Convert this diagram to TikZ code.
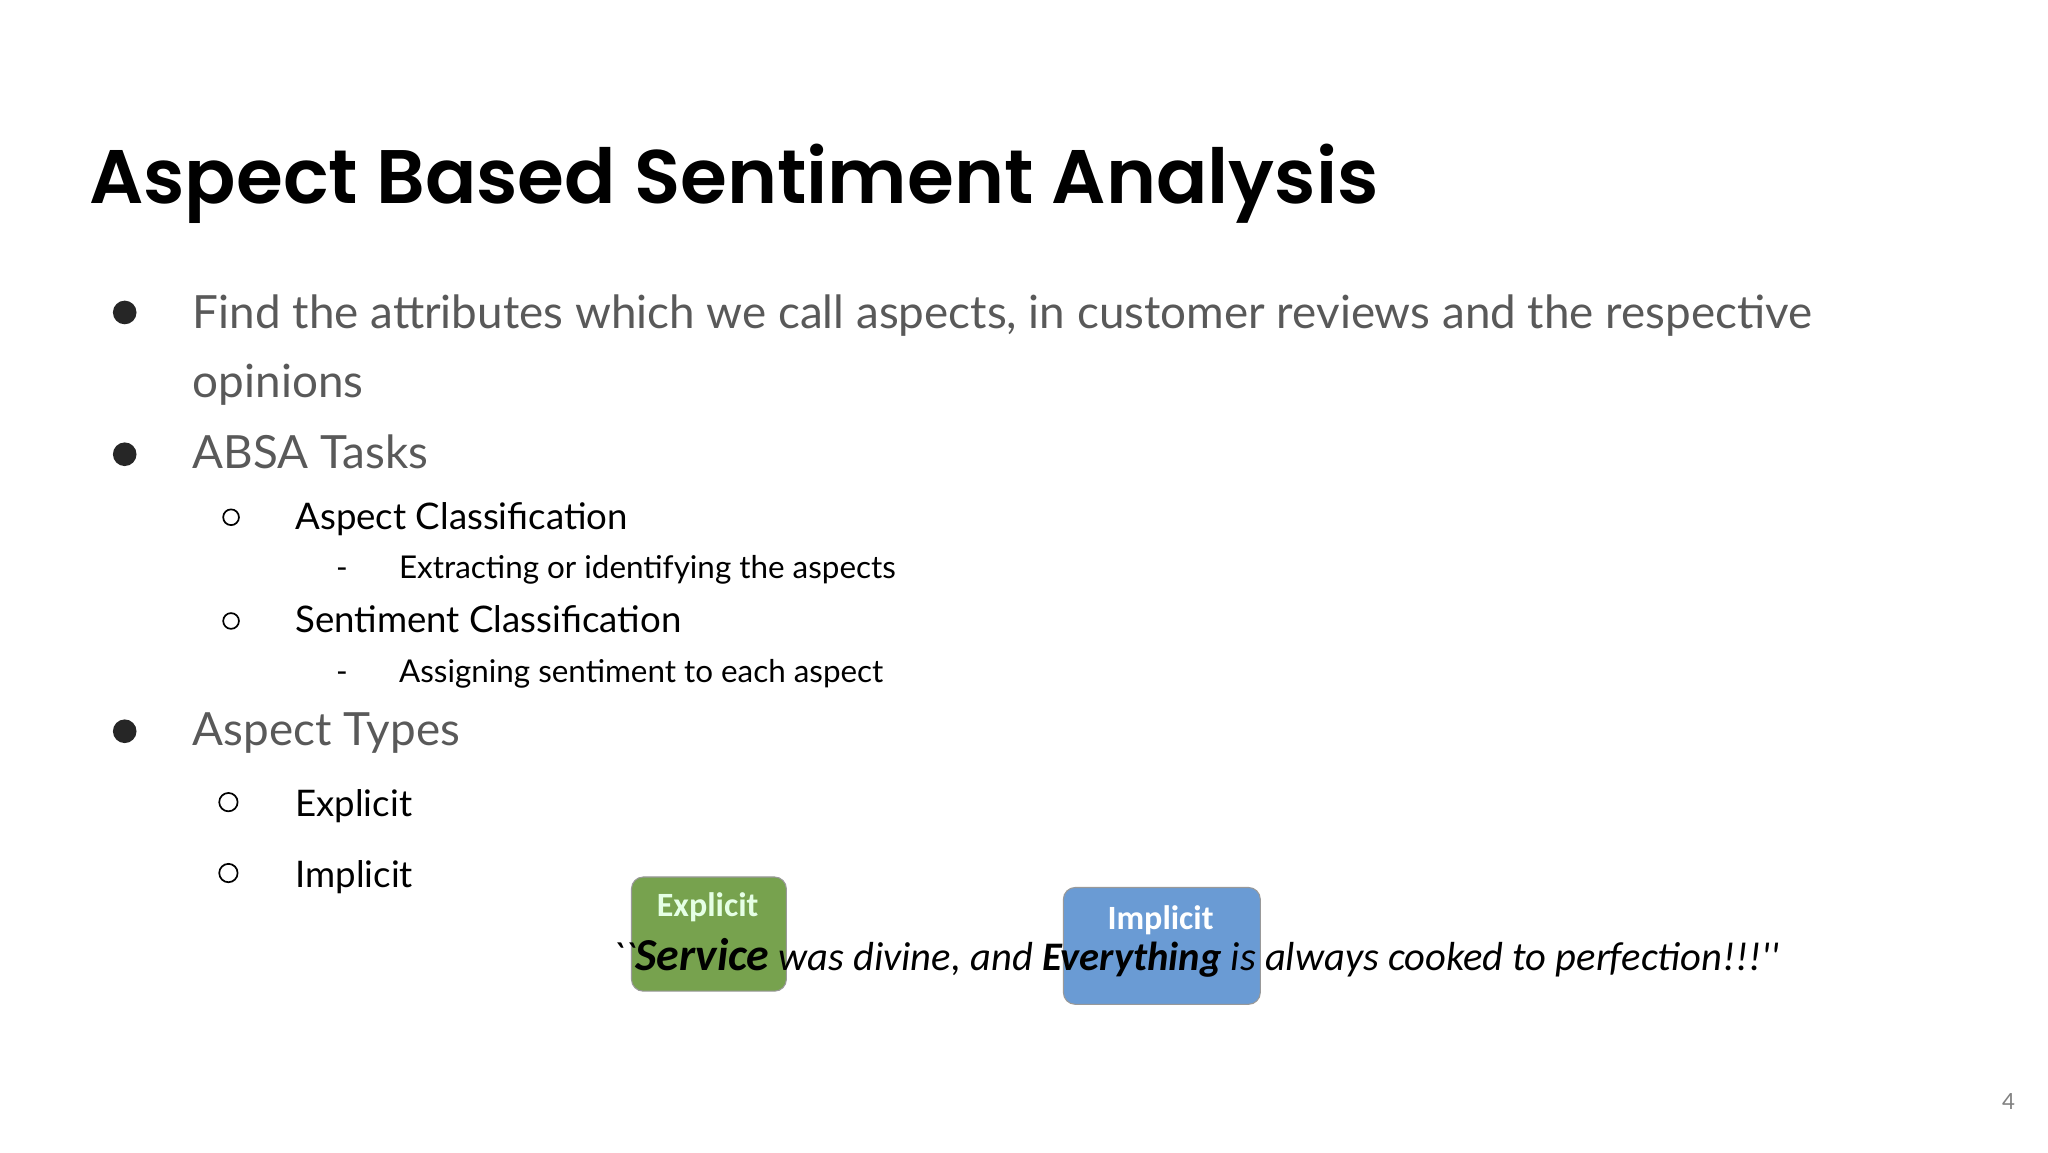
\documentclass[tikz,border=0pt]{standalone}
\usepackage{fontspec}
\setmainfont{Lato}
\newfontfamily\titlefont{Poppins}[UprightFont=* SemiBold]
\newfontfamily\calfont{Carlito}
\definecolor{bodygray}{HTML}{595959}
\definecolor{exgreen}{HTML}{77A24E}
\definecolor{imblue}{HTML}{6A9BD4}
\begin{document}
\begin{tikzpicture}[x=1bp,y=-1bp,
  every node/.style={inner sep=0pt,outer sep=0pt},
  lone/.style={anchor=base west,font=\fontsize{35}{40}\selectfont,text=bodygray},
  ltwo/.style={anchor=base west,font=\fontsize{28}{32}\selectfont,text=black},
  lthree/.style={anchor=base west,font=\fontsize{24}{28}\selectfont,text=black},
  tagbox/.style={draw=black!40,rounded corners=9bp,line width=0.8bp}]
\useasboundingbox (0,0) rectangle (1560,877.5);
\node[anchor=base west,font=\titlefont\fontsize{58}{64}\selectfont] (title) at (68,155) {Aspect Based Sentiment Analysis};
% level one
\fill[black!85] (95,238) circle (9);
\node[lone] (b1) at (147,250) {Find the attributes which we call aspects, in customer reviews and the respective};
\node[lone] (b1b) at (147,303) {opinions};
\fill[black!85] (95,346) circle (9);
\node[lone] (b2) at (147,357) {ABSA Tasks};
\draw[line width=1.3bp] (176,394) circle (6);
\node[ltwo] (b21) at (225,403) {Aspect Classification};
\node[lthree] (d1) at (256,441) {-};
\node[lthree] (b211) at (304,441) {Extracting or identifying the aspects};
\draw[line width=1.3bp] (176,473) circle (6);
\node[ltwo] (b22) at (225,482) {Sentiment Classification};
\node[lthree] (d2) at (256,520) {-};
\node[lthree] (b221) at (304,520) {Assigning sentiment to each aspect};
\fill[black!85] (95,557) circle (9);
\node[lone] (b3) at (147,568) {Aspect Types};
\draw[line width=1.3bp] (174,611) circle (7);
\node[ltwo] (b31) at (225,622) {Explicit};
\draw[line width=1.3bp] (174,665) circle (7);
\node[ltwo] (b32) at (225,676) {Implicit};
% example
\draw[tagbox,fill=exgreen] (481,668) rectangle (599,755);
\draw[tagbox,fill=imblue] (810,676) rectangle (960,765);
\node[anchor=base,font=\calfont\bfseries\fontsize{26}{30}\selectfont,text=white!90!green] (lex) at (539,698) {Explicit};
\node[anchor=base,font=\calfont\bfseries\fontsize{26}{30}\selectfont,text=white] (lim) at (884,708) {Implicit};
\node[anchor=base west,font=\calfont\itshape\fontsize{31}{36}\selectfont] (sent) at (466,739)
  {``\textbf{\fontsize{35}{38}\selectfont Service} was divine, and \textbf{Everything} is always cooked to perfection!!!''};
\node[anchor=base,font=\fontsize{17}{20}\selectfont,text=gray] (pg) at (1530,845) {4};
\end{tikzpicture}
\end{document}
